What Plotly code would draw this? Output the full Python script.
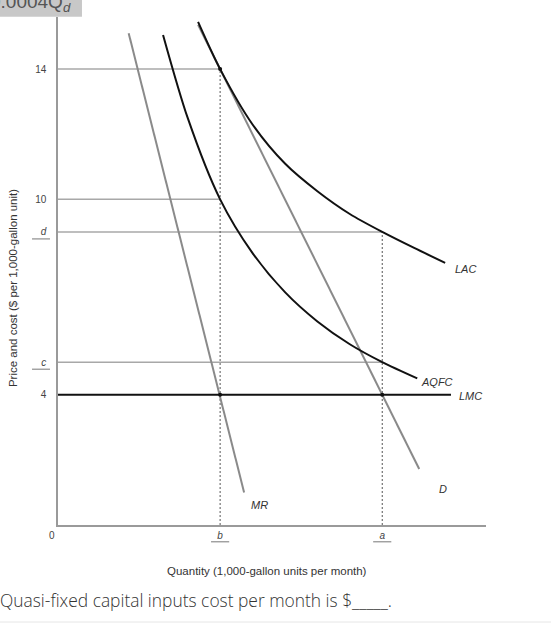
import plotly.graph_objects as go

# quantities on the horizontal axis
q_b = 25
q_a = 50
q_max = 66
p_max = 15.6

# price levels marked on the vertical axis
p_lmc = 4
p_c = 5
p_d = 9
p_10 = 10
p_14 = 14

# demand and marginal revenue (end points)
d_q = [21.6, 55.7]
d_p = [15.36, 1.72]
mr_q = [10.9, 28.7]
mr_p = [15.1, 1.0]

# average quasi-fixed cost
aqfc_q = [16.2, 20, 25, 30, 35, 40, 45, 50, 55.4]
aqfc_p = [15.05, 12.5, 10.0, 8.35, 7.15, 6.25, 5.55, 5.0, 4.5]

# long-run average cost
lac_q = [21.6, 25, 30, 35, 40, 45, 50, 55, 59.7]
lac_p = [15.45, 14.0, 12.3, 11.1, 10.25, 9.55, 9.0, 8.5, 8.05]

# long-run marginal cost
lmc_q = [0, 60.6]
lmc_p = [p_lmc, p_lmc]

FONT = "Liberation Sans, Arial, sans-serif"
GUIDE = "#a8a8a8"
GREY = "#8a8a8a"
INK = "#111111"

fig = go.Figure()

# horizontal guide lines from the price axis
for p, q in [(p_14, q_b), (p_10, q_b), (p_d, q_a), (p_c, q_a)]:
    fig.add_trace(go.Scatter(x=[0, q], y=[p, p], mode="lines",
                             line=dict(color=GUIDE, width=1.5), hoverinfo="skip"))

# dotted drop lines to the quantity axis
for q, p in [(q_b, p_14), (q_a, p_d)]:
    fig.add_trace(go.Scatter(x=[q, q], y=[0, p], mode="lines",
                             line=dict(color="#555555", width=1, dash="2px,2px"),
                             hoverinfo="skip"))

fig.add_trace(go.Scatter(x=d_q, y=d_p, mode="lines", line=dict(color=GREY, width=2)))
fig.add_trace(go.Scatter(x=mr_q, y=mr_p, mode="lines", line=dict(color=GREY, width=2)))
fig.add_trace(go.Scatter(x=lmc_q, y=lmc_p, mode="lines", line=dict(color=INK, width=2)))
fig.add_trace(go.Scatter(x=aqfc_q, y=aqfc_p, mode="lines",
                         line=dict(color=INK, width=2, shape="spline", smoothing=0.8)))
fig.add_trace(go.Scatter(x=lac_q, y=lac_p, mode="lines",
                         line=dict(color=INK, width=2, shape="spline", smoothing=0.8)))
fig.add_trace(go.Scatter(x=[q_b, q_b, q_a], y=[p_14, p_lmc, p_lmc], mode="markers",
                         marker=dict(color=INK, size=4)))

# curve labels
for txt, q, p in [("LAC", 62.8, 7.86), ("AQFC", 58.4, 4.39), ("LMC", 63.6, 3.96),
                  ("D", 59.4, 1.1), ("MR", 31.1, 0.61)]:
    fig.add_annotation(x=q, y=p, text="<i>%s</i>" % txt, showarrow=False,
                       xanchor="center", yanchor="middle",
                       font=dict(family=FONT, size=11, color="#333333"))

# short bars under the letter ticks
for q in [q_b, q_a]:
    fig.add_shape(type="line", xref="paper", yref="paper",
                  x0=(q - 1.4) / q_max, x1=(q + 1.4) / q_max, y0=-0.0331, y1=-0.0331,
                  line=dict(color="#777777", width=1))
for p in [p_d, p_c]:
    fig.add_shape(type="line", xref="paper", yref="paper",
                  x0=-0.0607, x1=-0.0187, y0=p / p_max - 7 / 508, y1=p / p_max - 7 / 508,
                  line=dict(color="#777777", width=1))

fig.add_annotation(xref="paper", yref="paper", x=-0.015, y=-0.021, text="0",
                   showarrow=False, xanchor="center", yanchor="middle",
                   font=dict(family=FONT, size=10, color="#444444"))
fig.add_annotation(xref="paper", yref="paper", x=0.488, y=-0.0906,
                   text="Quantity (1,000-gallon units per month)", showarrow=False,
                   xanchor="center", yanchor="middle",
                   font=dict(family=FONT, size=11.5, color="#333333"))
fig.add_annotation(xref="paper", yref="paper", x=-0.105, y=0.4665, textangle=-90,
                   text="Price and cost ($ per 1,000-gallon unit)", showarrow=False,
                   xanchor="center", yanchor="middle",
                   font=dict(family=FONT, size=11.5, color="#333333"))
fig.add_annotation(xref="paper", yref="paper", x=-0.1402, y=-0.147,
                   xanchor="left", yanchor="middle",
                   text="Quasi-fixed capital inputs cost per month is $_____.",
                   showarrow=False,
                   font=dict(family="Open Sans, sans-serif", size=17.4, weight=300,
                             color="#333333"))

# cropped equation strip at the top
fig.add_shape(type="rect", xref="paper", yref="paper", x0=-0.14, x1=0.056,
              y0=1.0006, y1=1.05, fillcolor="#c8c8c8", line=dict(width=0))
fig.add_annotation(xref="paper", yref="paper", x=0.034, y=1.0, xanchor="right",
                   yanchor="bottom", text="0.0004Q<sub><i>d</i></sub>", showarrow=False,
                   font=dict(family=FONT, size=19, color="#555555"))

fig.add_shape(type="line", xref="paper", yref="paper", x0=-0.14, x1=1.16,
              y0=-0.191, y1=-0.191, line=dict(color="#e6e6e6", width=1))

fig.update_layout(
    width=551, height=640,
    margin=dict(l=58, r=65, t=17, b=115, pad=0),
    paper_bgcolor="white", plot_bgcolor="white",
    showlegend=False,
    xaxis=dict(range=[0, q_max], showgrid=False, zeroline=False, showline=True,
               linecolor="#9a9a9a", linewidth=1.5, ticks="",
               tickvals=[q_b, q_a], ticktext=["<i>b</i>", "<i>a</i>"],
               ticklabelstandoff=0,
               tickfont=dict(family=FONT, size=10, color="#444444")),
    yaxis=dict(range=[0, p_max], showgrid=False, zeroline=False, showline=True,
               linecolor="#9a9a9a", linewidth=1.5, ticks="",
               tickvals=[p_lmc, p_c, p_d, p_10, p_14],
               ticktext=["4", "<i>c</i>", "<i>d</i>", "10", "14"],
               ticklabelstandoff=8,
               tickfont=dict(family=FONT, size=10, color="#444444")),
)

fig.write_html("out.html", config={"displayModeBar": False},
               post_script="document.body.style.margin='0';")
